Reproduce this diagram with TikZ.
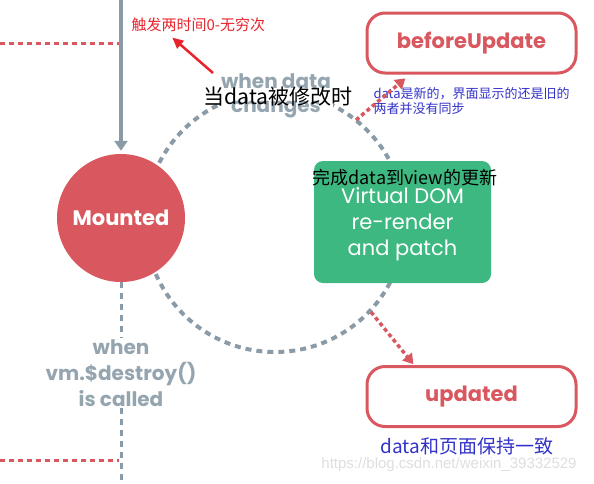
\documentclass[tikz,border=0pt]{standalone}
\usepackage{fontspec}
\setmainfont{Poppins}
\newfontfamily\cjk{Noto Sans CJK SC}
\newfontfamily\wmfont{Liberation Sans}
\usepackage{tikz}
\usetikzlibrary{arrows.meta,positioning,calc}

\definecolor{vuered}{HTML}{D9585F}
\definecolor{vuegreen}{HTML}{3DB880}
\definecolor{slate}{HTML}{8A9BA7}
\definecolor{slatetext}{HTML}{95A5AF}
\definecolor{notered}{HTML}{E8232B}
\definecolor{noteblue}{HTML}{3232C8}

\tikzset{
  hookbox/.style={draw=vuered, line width=3pt, rounded corners=18pt, fill=white,
    minimum width=209pt, minimum height=60pt, text=vuered, font=\bfseries\fontsize{21}{24}\selectfont},
  flowline/.style={slate, line width=3pt, dash pattern=on 6pt off 5pt},
  hookdash/.style={vuered, line width=3pt, dash pattern=on 5pt off 4pt},
  hookarrow/.style={vuered, line width=3.5pt, dash pattern=on 4pt off 3pt, -{Triangle[width=12pt,length=10pt]}},
  graytext/.style={text=slatetext, font=\bfseries\fontsize{20}{26}\selectfont, align=center}
}

\begin{document}
\begin{tikzpicture}[x=1pt, y=-1pt]
  \useasboundingbox (0,0) rectangle (594,483);

  % the dashed update loop
  \draw[flowline, line width=4pt] (275,222) circle (130pt);

  % Left side: mounted
  \coordinate (topin) at (121,0);
  \node[circle, fill=vuered, minimum size=128pt, text=white,
        font=\bfseries\fontsize{21}{24}\selectfont] (mounted) at (121,218) {Mounted};
  \draw[slate, line width=4pt, -{Triangle[width=13pt,length=10pt]}, shorten >=3pt] (topin) -- (mounted.north);

  \coordinate (topleft) at (0,43);
  \coordinate (topjoin) at (119,43);
  \draw[hookdash] (topleft) -- (topjoin);

  % Loop label
  \node[graytext, fill=white, inner sep=2pt] (whendata) at (276,96) {when data\\[-2pt]changes};
  \node[font=\cjk\fontsize{21}{24}\selectfont] (changed) at (278,97) {当data被修改时};

  % note on trigger count
  \node[text=notered, font=\cjk\fontsize{15}{17}\selectfont, anchor=west] (trigger) at (128,25) {触发两时间0-无穷次};
  \coordinate (notetail) at (213,73);
  \draw[notered, line width=2.5pt, -{Triangle[width=10pt,length=11pt]}] (notetail) -- ([xshift=-26pt,yshift=-2pt]trigger.south);

  % Right side: beforeUpdate and updated
  \node[hookbox] (before) at (471.5,43) {beforeUpdate};
  \node[hookbox] (updated) at (471.5,396.5) {updated};

  \node[text=noteblue, font=\cjk\fontsize{13}{15}\selectfont, align=left, anchor=north west] (stale) at (370,84)
    {data是新的，界面显示的还是旧的\\两者并没有同步};
  \node[text=noteblue, font=\cjk\fontsize{19}{21}\selectfont] (insync) at (467,446) {data和页面保持一致};

  % Virtual DOM box
  \node[fill=vuegreen, rounded corners=9pt, minimum width=177pt, minimum height=122pt,
        text=white, align=center, font=\fontsize{21}{26}\selectfont] (vdom) at (402.5,222)
        {\\[-6pt]Virtual DOM\\re-render\\and patch};
  \node[font=\cjk\fontsize{18}{20}\selectfont] (rendered) at (405,178) {完成data到view的更新};

  \coordinate (beforestart) at (356,120);
  \coordinate (updatedstart) at (371,312);
  \draw[hookarrow, shorten >=6pt] (beforestart) -- (before.south west -| 410,0);
  \draw[hookarrow, shorten >=1pt] (updatedstart) -- (updated.north west -| 414,0);

  % Bottom: destroy
  \node[graytext] (destroy) at (121,373) {when\\vm.\$destroy()\\is called};
  \coordinate (bottomout) at (121,483);
  \draw[flowline] (mounted.south) -- ([yshift=-2pt]destroy.north);
  \draw[flowline] ([yshift=2pt]destroy.south) -- (bottomout);
  \coordinate (botleft) at (0,460);
  \coordinate (botjoin) at (119,460);
  \draw[hookdash] (botleft) -- (botjoin);

  % watermark
  \node[text=black!13, font=\wmfont\fontsize{15}{18}\selectfont] (mark) at (449,465) {https://blog.csdn.net/weixin\_39332529};
\end{tikzpicture}
\end{document}
